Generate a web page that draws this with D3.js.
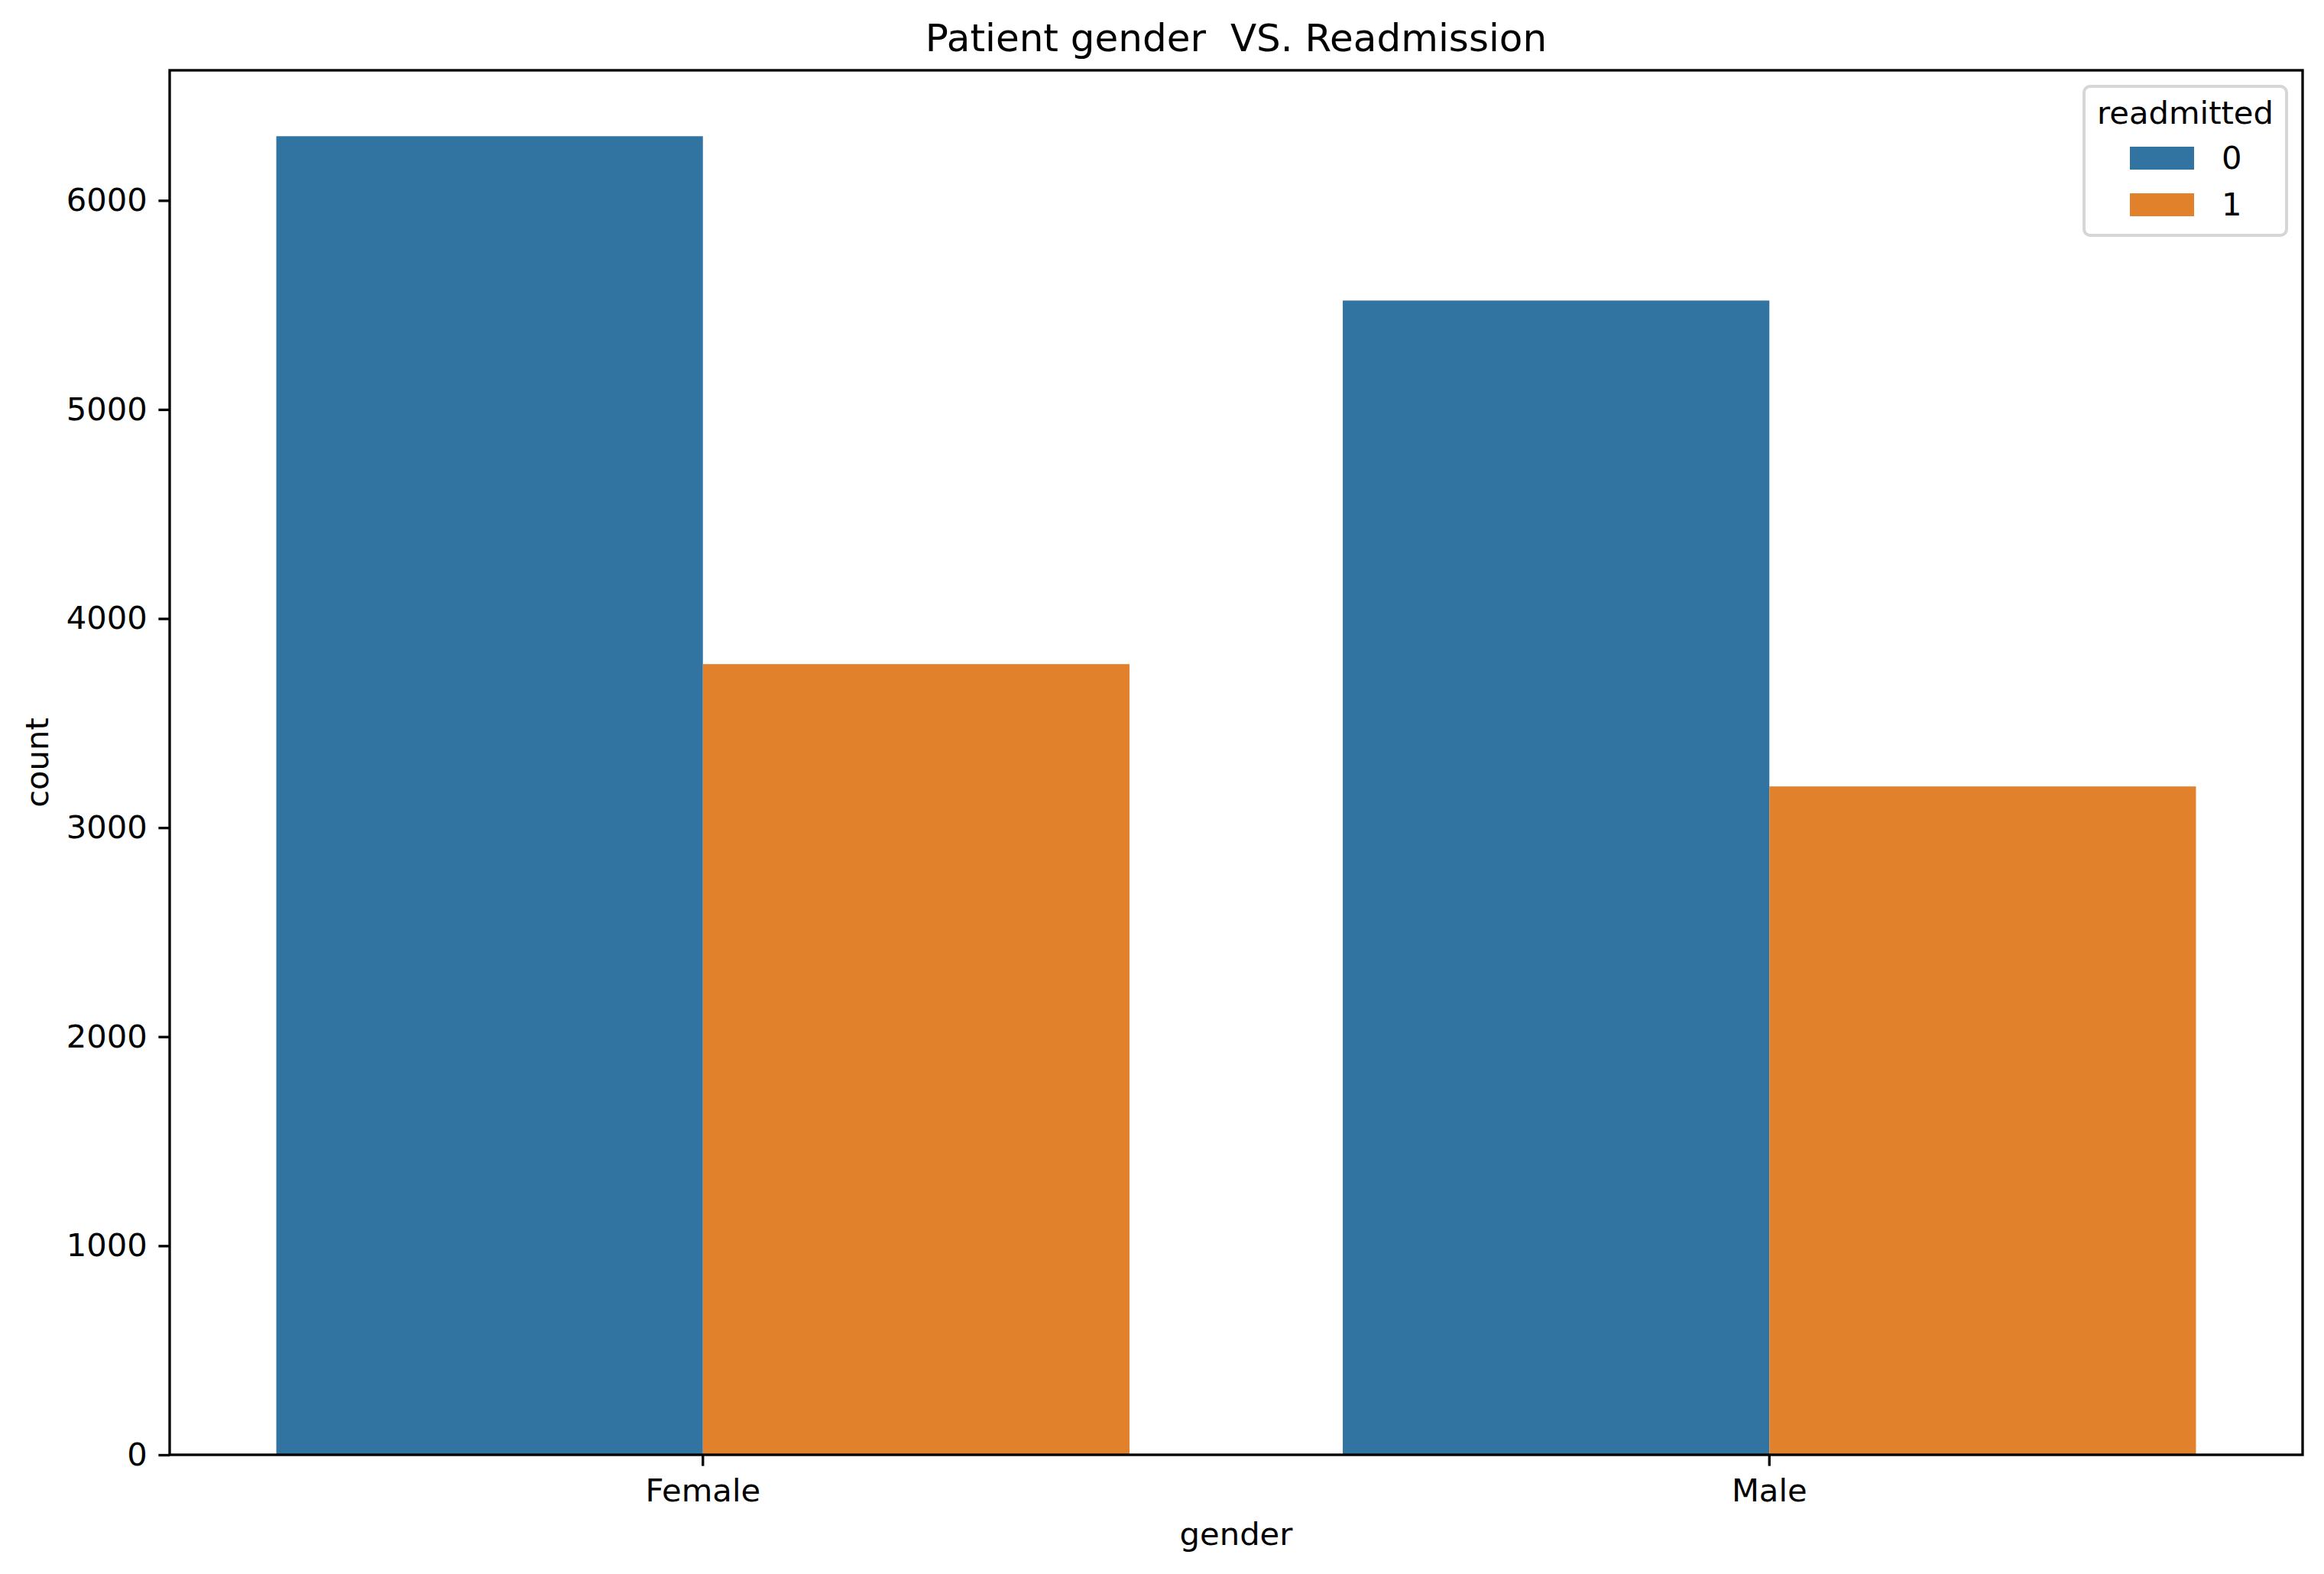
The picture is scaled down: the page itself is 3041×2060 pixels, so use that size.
<!DOCTYPE html>
<html>
<head>
<meta charset="utf-8">
<script src="https://cdn.jsdelivr.net/npm/d3@7"></script>
<style>
  body { margin: 0; background: #fff; }
  text { font-family: "DejaVu Sans", sans-serif; fill: #000; }
</style>
</head>
<body>
<svg id="chart" width="3041" height="2060"></svg>
<script>
// data
var categories = ["Female", "Male"];
var hues = ["0", "1"];
var readmitted0 = [6307, 5521];
var readmitted1 = [3782, 3197];
var yTicks = [0, 1000, 2000, 3000, 4000, 5000, 6000];
var colors = ["#3274a1", "#e1812c"];

var svg = d3.select("#chart");
var margin = {top: 92, right: 28, bottom: 156, left: 222};
var width = +svg.attr("width") - margin.left - margin.right;
var height = +svg.attr("height") - margin.top - margin.bottom;

var series = hues.map(function(h, i) {
  var vals = i === 0 ? readmitted0 : readmitted1;
  return categories.map(function(c, j) { return {cat: c, hue: h, value: vals[j]}; });
});

var x = d3.scaleBand().domain(categories).range([0, width]);
var xSub = d3.scaleBand().domain(hues).range([x.bandwidth() * 0.1, x.bandwidth() * 0.9]);
var ymax = d3.max(readmitted0.concat(readmitted1)) * 1.05;
var y = d3.scaleLinear().domain([0, ymax]).range([height, 0]);
var color = d3.scaleOrdinal().domain(hues).range(colors);

var g = svg.append("g")
    .attr("transform", "translate(" + margin.left + "," + margin.top + ")");

// bars
g.selectAll(".series")
    .data(series)
  .enter().append("g")
    .attr("class", "series")
    .attr("fill", function(d) { return color(d[0].hue); })
  .selectAll("rect")
    .data(function(d) { return d; })
  .enter().append("rect")
    .attr("x", function(d) { return x(d.cat) + xSub(d.hue); })
    .attr("width", xSub.bandwidth())
    .attr("y", function(d) { return y(d.value); })
    .attr("height", function(d) { return height - y(d.value); });

// axes
var xAxis = g.append("g")
    .attr("transform", "translate(0," + height + ")")
    .call(d3.axisBottom(x).tickSize(14.6).tickPadding(17));
var yAxis = g.append("g")
    .call(d3.axisLeft(y).tickValues(yTicks).tickFormat(d3.format("d")).tickSize(14.6).tickPadding(14.6));

[xAxis, yAxis].forEach(function(ax) {
  ax.select(".domain").remove();
  ax.attr("font-family", null).attr("font-size", null);
  ax.selectAll(".tick line").attr("stroke", "#000").attr("stroke-width", 3.33);
  ax.selectAll(".tick text").style("font-size", "41.7px");
});

// frame
g.append("rect")
    .attr("width", width)
    .attr("height", height)
    .attr("fill", "none")
    .attr("stroke", "#000")
    .attr("stroke-width", 3.33);

// title and labels
svg.append("text")
    .attr("x", margin.left + width / 2)
    .attr("y", 67)
    .attr("text-anchor", "middle")
    .style("font-size", "50px")
    .style("white-space", "pre")
    .text("Patient gender  VS. Readmission");

svg.append("text")
    .attr("x", margin.left + width / 2)
    .attr("y", 2022)
    .attr("text-anchor", "middle")
    .style("font-size", "41.7px")
    .text("gender");

svg.append("text")
    .attr("transform", "translate(63," + (margin.top + height / 2) + ") rotate(-90)")
    .attr("text-anchor", "middle")
    .style("font-size", "41.7px")
    .text("count");

// legend
var lg = svg.append("g").attr("transform", "translate(2727,113)");
lg.append("rect")
    .attr("width", 265)
    .attr("height", 195)
    .attr("rx", 8)
    .attr("fill", "#fff")
    .attr("stroke", "#d6d6d6")
    .attr("stroke-width", 4);
lg.append("text")
    .attr("x", 132.5)
    .attr("y", 49)
    .attr("text-anchor", "middle")
    .style("font-size", "41.7px")
    .text("readmitted");
var items = lg.selectAll(".item")
    .data(hues)
  .enter().append("g")
    .attr("class", "item")
    .attr("transform", function(d, i) { return "translate(60," + (79 + i * 61) + ")"; });
items.append("rect")
    .attr("width", 84)
    .attr("height", 30)
    .attr("fill", function(d) { return color(d); });
items.append("text")
    .attr("x", 120)
    .attr("y", 29)
    .style("font-size", "41.7px")
    .text(function(d) { return d; });
</script>
</body>
</html>
